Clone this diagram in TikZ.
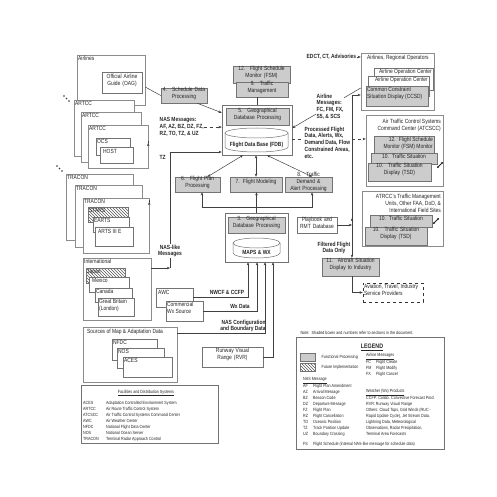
\documentclass[tikz,border=0pt]{standalone}
\usepackage{fontspec}
\setmainfont{Liberation Sans}[FakeStretch=0.82]
\usetikzlibrary{fit, calc, patterns, arrows.meta}

\tikzset{
  box/.style={draw=black!55, fill=white, inner sep=0pt, line width=0.5pt},
  fbox/.style={box, fill=black!20},
  hbox/.style={box, preaction={fill=white}, pattern=north west lines, pattern color=black!65},
  grp/.style={box, draw=black!45},
  tag/.style={anchor=north west, inner sep=1.2pt, align=left},
  rtag/.style={anchor=north east, inner sep=1.2pt, align=right},
  msg/.style={font=\fontsize{6}{6.8}\selectfont\bfseries, inner sep=0.5pt},
  line/.style={draw=black!75, line width=0.5pt},
  arr/.style={line, -{Stealth[length=3.2pt, width=2.6pt]}},
  both/.style={line, {Stealth[length=3.2pt, width=2.6pt]}-{Stealth[length=3.2pt, width=2.6pt]}},
  link/.style={draw=black!85, line width=0.8pt, {Stealth[length=2pt, width=2pt]}-{Stealth[length=2pt, width=2pt]}},
  small/.style={font=\fontsize{4.5}{5.95}\selectfont},
}

\begin{document}
\begin{tikzpicture}[x=1pt, y=-1pt, font=\fontsize{6}{7}\selectfont, text=black!85]
\useasboundingbox (0,0) rectangle (497,497);

% airlines and schedule data
\node[grp, fit={(77,55) (145,105)}] (airl) {};
\node[tag] at (airl.north west) {Airlines};
\node[box, fit={(102,72) (142,93)}, align=center] (oag) {Official Airline\\Guide (OAG)};
\node[fbox, fit={(161,88) (207,103)}, align=center] (sched) {4.~ Schedule Data\\Processing};

% ARTCC stack
\node[grp, fit={(74,100) (134,156)}] (artcc1) {};
\node[tag] at (artcc1.north west) {ARTCC};
\node[grp, fit={(81,112) (141,162)}] (artcc2) {};
\node[tag] at (artcc2.north west) {ARTCC};
\node[grp, fit={(88,125) (148,168)}] (artcc3) {};
\node[tag] at (artcc3.north west) {ARTCC};
\node[box, fit={(96,138) (130,155)}] (ocs) {};
\node[tag] at (ocs.north west) {OCS};
\node[box, fit={(100,147) (133,163)}] (host) {};
\node[tag] at ($(host.north west)+(2,1)$) {HOST};

% TRACON stack
\node[grp, fit={(66,174) (133,240)}] (tracon1) {};
\node[tag] at (tracon1.north west) {TRACON};
\node[grp, fit={(75,185) (142,247)}] (tracon2) {};
\node[tag] at (tracon2.north west) {TRACON};
\node[grp, fit={(83,198) (149,253)}] (tracon3) {};
\node[tag] at (tracon3.north west) {TRACON};
\node[hbox, fit={(88,207) (128,222)}] (stars) {};
\node[tag] at (stars.north west) {STARS};
\node[box, fit={(93,217) (129,232)}] (earts) {};
\node[tag] at (earts.north west) {EARTS};
\node[box, fit={(95,227) (133,246)}] (arts) {};
\node[tag] at ($(arts.north west)+(2,1)$) {ARTS III E};

% international
\node[grp, fit={(83,258) (151,320)}] (intl) {};
\node[tag] at (intl.north west) {International};
\node[hbox, fit={(86,268) (125,283)}] (japan) {};
\node[tag] at (japan.north west) {Japan};
\node[box, fit={(89,277) (129,292)}] (mexico) {};
\node[tag] at ($(mexico.north west)+(2,0)$) {Mexico};
\node[box, fit={(95,288) (132,302)}] (canada) {};
\node[tag] at (canada.north west) {Canada};
\node[box, fit={(98,298) (134,316)}] (gb) {};
\node[tag] at (gb.north west) {Great Britain\\(London)};

% weather sources
\node[box, fit={(156,288) (193,307)}] (awc) {};
\node[tag] at ($(awc.north west)+(1,1)$) {AWC};
\node[box, fit={(166,301) (203,321)}] (comm) {};
\node[tag] at (comm.north west) {Commercial\\Wx Source};

% map and adaptation sources
\node[grp, fit={(83,327) (177,382)}] (srcs) {};
\node[tag] at ($(srcs.north west)+(3,1)$) {Sources of Map \& Adaptation Data};
\node[box, fit={(112,339) (157,360)}] (nfdc) {};
\node[tag] at (nfdc.north west) {NFDC};
\node[box, fit={(117,348) (164,368)}] (nos) {};
\node[tag] at (nos.north west) {NOS};
\node[box, fit={(123,357) (172,377)}] (aces) {};
\node[tag] at (aces.north west) {ACES};

\node[box, fit={(202,347) (263,367)}, align=center] (rvr) {Runway Visual\\Range (RVR)};

% FSM / traffic management
\node[fbox, fit={(233,66) (290,83)}, align=center] (fsm12) {12.~ Flight Schedule\\Monitor (FSM)};
\node[fbox, fit={(236,82) (288,97)}, align=center] (tm9) {9.~ Traffic\\Management};

% flight data base
\node[box, fit={(222,105) (292,155)}] (fdbgrp) {};
\node[fbox, fit={(226,108) (289,125)}, align=center] (geo5) {5.~ Geographical\\Database Processing};
\draw[box] (225,133) -- (225,147) arc[start angle=180, end angle=0, x radius=31.5, y radius=5] -- (288,133);
\draw[box] (256.5,133) ellipse [x radius=31.5, y radius=5];
\node[msg] (fdb) at (256.5,145) {Flight Data Base (FDB)};

% processing boxes
\node[fbox, fit={(175,177) (220,192)}, align=center] (fp6) {6.~ Flight Plan\\Processing};
\node[fbox, fit={(230,177) (282,192)}] (fm7) {7.~ Flight Modeling};
\node[fbox, fit={(285,177) (332,192)}, align=center] (td8) {8.~ Traffic Demand \&\\Alert Processing};

% maps and wx
\node[box, fit={(225,213) (288,262)}] (geogrp) {};
\node[fbox, fit={(228,217) (285,233)}, align=center] (geo3) {3.~ Geographical\\Database Processing};
\draw[box] (233,243) -- (233,253) arc[start angle=180, end angle=0, x radius=23.5, y radius=5] -- (280,243);
\draw[box] (256.5,243) ellipse [x radius=23.5, y radius=5];
\node[msg] (maps) at (256.5,252) {MAPS \& WX};

% right side
\node[grp, fit={(361,53) (434,110)}] (airgrp) {};
\node[tag] at ($(airgrp.north west)+(5,1)$) {Airlines, Regional Operators};
\node[box, fit={(374,68) (433,90)}] (aoc1) {};
\node[rtag] at (aoc1.north east) {Airline Operation Center};
\node[box, fit={(368,76) (429,96)}] (aoc2) {};
\node[rtag] at (aoc2.north east) {Airline Operation Center};
\node[fbox, fit={(366,86) (428,106)}] (ccsd) {};
\node[tag] at (ccsd.north west) {Common Constraint\\Situation Display (CCSD)};

\node[grp, fit={(366,115) (443,186)}] (atcscc) {};
\node[rtag] at ($(atcscc.north east)+(-1,3)$) {Air Traffic Control Systems\\Command Center (ATCSCC)};
\node[fbox, fit={(374,136) (434,153)}] (fsmm) {};
\node[rtag] at (fsmm.north east) {12.~ Flight Schedule\\Monitor (FSM) Monitor};
\node[fbox, fit={(371,153) (437,164)}] (ts10) {10.~ Traffic Situation};
\node[fbox, fit={(368,163) (431,181)}, align=center] (tsd10) {10.~ Traffic Situation\\Display (TSD)};

\node[grp, fit={(362,191) (443,246)}] (atrcc) {};
\node[rtag] at ($(atrcc.north east)+(-1,2)$) {ATRCC's Traffic Management\\Units, Other FAA, DoD, \&\\International Field Sites};
\node[fbox, fit={(370,215) (432,227)}] (ts10b) {10.~ Traffic Situation};
\node[fbox, fit={(365,227) (427,245)}, align=center] (tsd10b) {10.~ Traffic Situation\\Display (TSD)};

\node[box, fit={(297,217) (337,233)}, align=center] (playbook) {Playbook and\\RMT Database};
\node[fbox, fit={(322,258) (379,276)}, align=center] (asdi) {11.~ Aircraft Situation\\Display to Industry};
\node[box, dashed, draw=black!80, fit={(363,283) (423,302)}] (avi) {};
\node[tag] at (avi.north west) {Aviation, Travel, Industry\\Service Providers};

% connectors, left
\draw[line] ($(airl.east)+(0,7)$) -- (sched.west);
\draw[arr] ($(sched.south east)+(-10,0)$) -- ($(fdbgrp.north west)+(0,8)$);
\node[msg, anchor=north west, align=left] (nasmsg) at (159,117) {NAS Messages:\\AF, AZ, BZ, DZ, FZ,\\RZ, TO, TZ, \& UZ};
\draw[arr, dashed] (nasmsg.east) -- (nasmsg.east -| fdbgrp.west);
\draw[arr] ($(artcc3.east)+(0,-3.5)$) -- ($(artcc3.east)+(0,-3.5)$ -| fdbgrp.west);
\coordinate (tzbot) at (170,268);
\coordinate (tztop) at (170,152);
\draw[arr] (tzbot) -- (tztop) -- (tztop -| fdbgrp.west);
\draw[arr] (intl.east |- tzbot) -- (tzbot);
\draw[arr] ($(tracon3.north east)+(0,4)$) -- ($(tracon3.north east)+(0,4)$ -| tzbot);
\node[msg, anchor=west] (tz) at (159,157) {TZ};
\node[msg, fill=white, align=center] (naslike) at (170,251) {NAS-like\\Messages};

% connectors, centre
\draw[line] (fdbgrp.north) -- (fdbgrp.north |- tm9.south);
\draw[both] ($(fp6.north)+(10,0)$) -- ($(fdbgrp.south)+(-14,0)$);
\draw[both] (fm7.north) -- (fm7.north |- fdbgrp.south);
\draw[both] ($(td8.north)+(3.5,0)$) -- ($(fdbgrp.south)+(10,0)$);
\draw[arr] (geogrp.north) -- (geogrp.north |- fm7.south);
\coordinate (tbar) at ($(geogrp.north)+(0,-6)$);
\draw[arr] (tbar) -| ($(fp6.south)+(4.5,0)$);
\draw[arr] (tbar) -| ($(td8.south)+(3.5,0)$);

% connectors into maps and wx
\draw[arr] (awc.east) -| ($(geogrp.south)+(-8.5,0)$);
\draw[arr] (comm.east) -| ($(geogrp.south)+(0.5,0)$);
\draw[arr] ($(srcs.north east)+(0,6)$) -| ($(geogrp.south)+(8.5,0)$);
\draw[arr] (rvr.east) -| ($(geogrp.south)+(16.5,0)$);
\node[msg] (nwcf) at (227,292) {NWCF \& CCFP};
\node[msg] (wx) at (240,306.5) {Wx Data};
\node[msg, align=right] (nascfg) at (243,326) {NAS Configuration\\and Boundary Data};

% connectors, right
\node[msg, anchor=west] (edct) at (306,57) {EDCT, CT, Advisories};
\draw[arr] (edct.east) -- (edct.east -| airgrp.west);
\draw[arr] ($(airgrp.west)+(0,6.5)$) -- ($(fdbgrp.east)+(0,-2)$);
\node[msg, fill=white, anchor=north west, align=left] (airmsg) at (316,93) {Airline\\Messages:\\FC, FM, FX,\\S5, \& SCS};
\coordinate (procy) at (300,139);
\draw[arr, dashed] (fdbgrp.east |- procy) -- (atcscc.west |- procy);
\node[msg, fill=white, anchor=north west, align=left] (procmsg) at (304,126) {Processed Flight\\Data, Alerts, Wx,\\Demand Data, Flow\\Constrained Areas,\\etc.};
\coordinate (bus) at (352,95);
\draw[arr] (bus) -- (bus -| airgrp.west);
\draw[arr] (bus) -- (bus |- asdi.north);
\draw[arr] ($(bus)+(0,123)$) -- ($(bus)+(0,123)$ -| atrcc.west);
\draw[arr] (playbook.east) -- (playbook.east -| bus);
\draw[arr] (asdi.south -| bus) |- (avi.west);
\node[msg, align=center] (filt) at (334,248) {Filtered Flight\\Data Only};

% link marks and stack dots
\coordinate (lk1) at (437,168);
\coordinate (lk2) at (433,224);
\draw[link] (lk1) -- ++(6,-6);
\draw[link] (lk2) -- ++(6,-6);
\fill[black!80] (64,96) circle (0.8) (66.5,98.5) circle (0.8) (69,101) circle (0.8);
\fill[black!80] (57,166) circle (0.8) (59.5,168.5) circle (0.8) (62,171) circle (0.8);

% legend
\node[small, anchor=west] (note) at (297,332.5) {Note:~ Shaded boxes and numbers refer to sections in the document.};
\node[box, fit={(296,337) (444,449)}] (legend) {};
\node[font=\fontsize{6.5}{7}\selectfont\bfseries] (legtitle) at (372,347) {\underline{LEGEND}};
\node[fbox, fit={(300,353) (315,361)}] (swf) {};
\node[small, anchor=west] at (318,357) {Functional Processing};
\node[hbox, fit={(300,363) (315,371)}] (swh) {};
\node[small, anchor=west] at (318,367) {Future Implementation};
\node[small, anchor=north west, inner sep=0pt] (airleg) at (366,352.5) {\begin{tabular}{@{}p{10pt}@{}l@{}}
\multicolumn{2}{@{}l}{\underline{Airline Messages}}\\
FC & Flight Create\\
FM & Flight Modify\\
FX & Flight Cancel
\end{tabular}};
\node[small, anchor=north west, inner sep=0pt] (nasleg) at (303,376.5) {\begin{tabular}{@{}p{10pt}@{}l@{}}
\multicolumn{2}{@{}l}{\underline{NAS Message}}\\
AF & Flight Plan Amendment\\
AZ & Arrival Message\\
BZ & Beacon Code\\
DZ & Departure Message\\
FZ & Flight Plan\\
RZ & Flight Cancellation\\
TO & Oceanic Position\\
TZ & Track Position Update\\
UZ & Boundary Crossing
\end{tabular}};
\node[small, anchor=north west, inner sep=0pt] (wxleg) at (366,388) {\begin{tabular}{@{}l@{}}
\underline{Weather (Wx) Products}\\
CCFP: Collab. Convective Forecast Prod.\\
RVR: Runway Visual Range\\
Others: Cloud Tops, Grid Winds (RUC -\\
Rapid Update Cycle), Jet Stream Data,\\
Lightning Data, Meteorological\\
Observations, Radar Precipitation,\\
Terminal Area Forecasts
\end{tabular}};
\node[small, anchor=west, inner sep=0pt] (fsleg) at (303,444) {\begin{tabular}{@{}p{10pt}@{}l@{}}
FS & Flight Schedule (internal NAS-like message for schedule data)
\end{tabular}};

% facilities
\node[box, fit={(81,385) (218,443)}] (facil) {};
\node[small] (factitle) at (146,393) {\underline{Facilities and Distribution Systems}};
\node[small, anchor=north west, inner sep=0pt] (facleg) at (83,400.5) {\begin{tabular}{@{}p{23pt}@{}l@{}}
ACES & Adaptation Controlled Environment System\\
ARTCC & Air Route Traffic Control System\\
ATCSCC & Air Traffic Control Systems Command Center\\
AWC & Air Weather Center\\
NFDC & National Flight Data Center\\
NOS & National Ocean Server\\
TRACON & Terminal Radar Approach Control
\end{tabular}};

\end{tikzpicture}
\end{document}
